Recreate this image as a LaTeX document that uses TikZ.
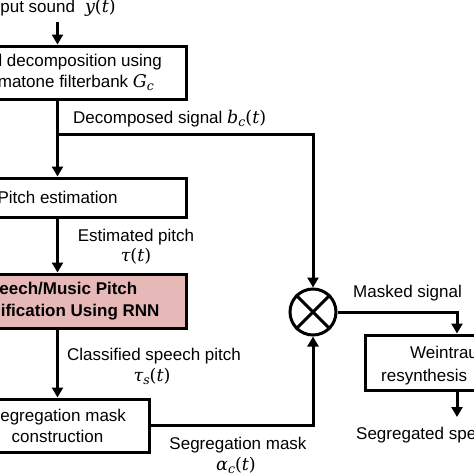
\documentclass[tikz,border=0pt]{standalone}
\usepackage{fontspec}
\setmainfont{Liberation Sans}
\newfontfamily\mfont{DejaVu Serif}
\newcommand{\mv}[1]{{\fontsize{17.5}{21}\mfont\itshape\selectfont #1}}
\newcommand{\mr}[1]{{\fontsize{17.5}{21}\mfont\upshape\selectfont #1}}
\newcommand{\msub}[1]{\raisebox{-3.5pt}{\fontsize{12.5}{13}\mfont\itshape\selectfont #1}}
\newcommand{\ofarg}[1]{\mr{(}\mv{#1}\mr{)}}
\usetikzlibrary{arrows.meta,calc}
\definecolor{rnnpink}{RGB}{230,185,184}
\begin{document}
\begin{tikzpicture}[x=1pt,y=-1pt,
  every node/.style={font=\fontsize{17}{21}\selectfont},
  box/.style={draw,line width=3pt,inner sep=0pt,align=center},
  lbl/.style={inner sep=0pt},
  conn/.style={line width=3pt,-{Triangle[length=10pt,width=11pt]}},
  wire/.style={line width=3pt}]
\useasboundingbox (0,0) rectangle (474,474);
\clip (0,0) rectangle (474,474);
% boxes
\node[box,minimum width=258pt,minimum height=53pt] (dec) at (57.5,72.5) {Sound decomposition using\\Gammatone filterbank \mv{G}\msub{c}};
\node[box,minimum width=258pt,minimum height=39pt] (pitch) at (57.5,197.5) {Pitch estimation};
\node[box,fill=rnnpink,minimum width=258pt,minimum height=54pt,font=\fontsize{17}{21.5}\selectfont\bfseries] (rnn) at (57.5,301) {Speech/Music Pitch\\Classification Using RNN};
\node[box,minimum width=183pt,minimum height=53pt] (mask) at (57.5,425.5) {Segregation mask\\construction};
\node[draw,circle,line width=3pt,minimum size=46pt,inner sep=0pt] (mul) at (313,312) {};
\draw[wire] (mul.north west) -- (mul.south east);
\draw[wire] (mul.north east) -- (mul.south west);
\node[box,minimum width=184pt,minimum height=55pt] (wein) at (457,362.5) {};
\coordinate (instart) at (57.5,22);
\coordinate (out) at (457,417);
% connectors
\draw[conn] (instart) -- (dec.north);
\draw[conn] (dec.south) -- (pitch.north);
\draw[conn] ($(dec.south)+(0,34)$) -| (mul.north);
\draw[conn] (pitch.south) -- (rnn.north);
\draw[conn] (rnn.south) -- (mask.north);
\draw[conn] (mask.east) -| (mul.south);
\draw[conn] (mul.east) -| (wein.north);
\draw[conn] (wein.south) -- (out);
% labels
\node[lbl,anchor=base west] (lin) at (-14,12) {Input sound\hspace{10pt}\mv{y}\ofarg{t}};
\node[lbl,anchor=base west] (ldec) at (73,123) {Decomposed signal \mv{b}\msub{c}\ofarg{t}};
\node[lbl,anchor=base] (lest1) at (136,241) {Estimated pitch};
\node[lbl,anchor=base] (lest2) at (136,261) {\mv{τ}\ofarg{t}};
\node[lbl,anchor=base] (lcls1) at (154,360) {Classified speech pitch};
\node[lbl,anchor=base] (lcls2) at (152,381) {\mv{τ}\msub{s}\ofarg{t}};
\node[lbl,anchor=base] (lseg1) at (238,449) {Segregation mask};
\node[lbl,anchor=base] (lseg2) at (236,470) {\mv{α}\msub{c}\ofarg{t}};
\node[lbl,anchor=base west] (lmask) at (353,297) {Masked signal};
\node[lbl,anchor=base west] (lw1) at (410,358) {Weintraub's};
\node[lbl,anchor=base west] (lw2) at (381,381) {resynthesis};
\node[lbl,anchor=base west] (lout) at (356,439) {Segregated speech};
\end{tikzpicture}
\end{document}
